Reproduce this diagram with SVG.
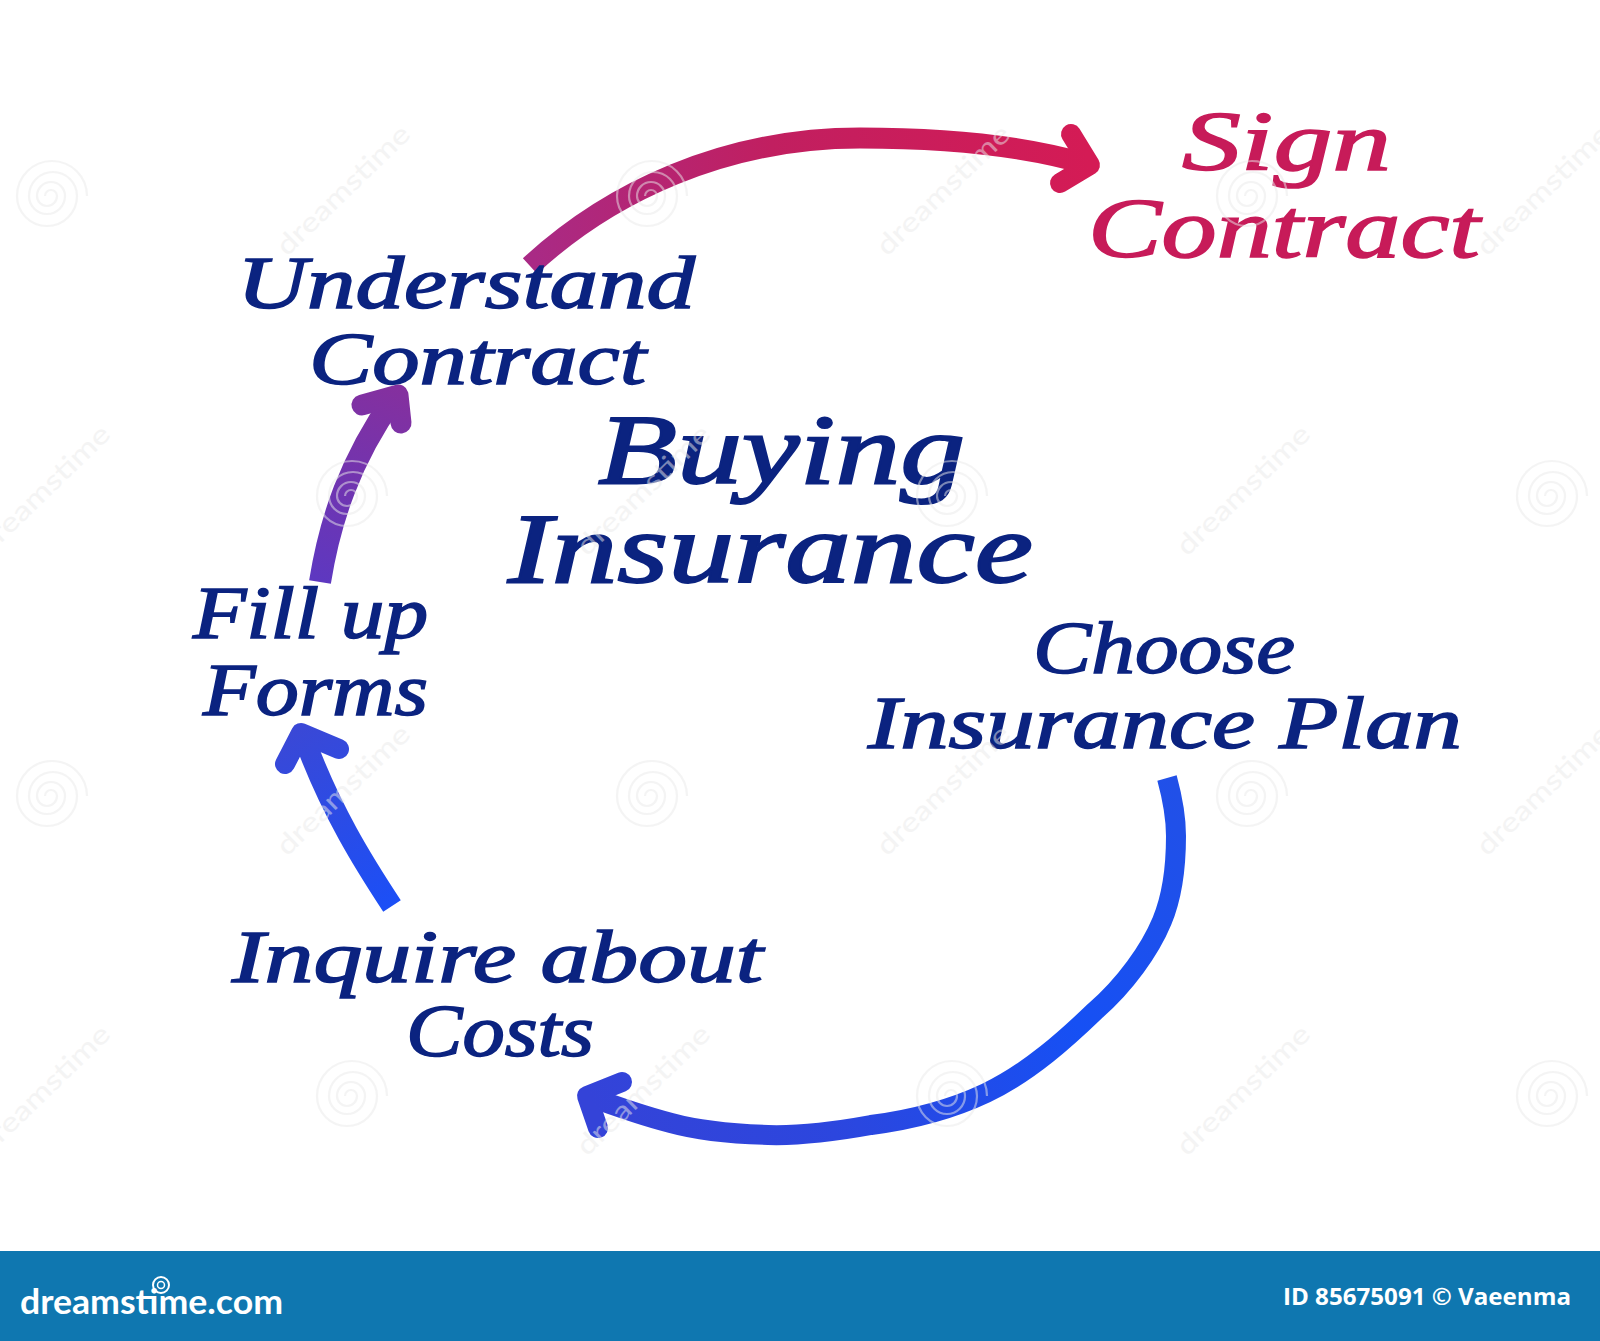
<svg xmlns="http://www.w3.org/2000/svg" xmlns:xlink="http://www.w3.org/1999/xlink" width="1600" height="1341" viewBox="0 0 1600 1341">
<style>
.t{font-family:"Liberation Serif",serif;font-style:italic;font-size:74px;fill:#0b2380;stroke:#0b2380;stroke-width:1.6px}
.big{font-size:100px;stroke-width:2px}
.red{fill:#c71b59;stroke:#c71b59;font-size:84px}
.a{fill:none;stroke-linejoin:round;stroke-linecap:round}
.s{fill:none;stroke-linecap:butt}
.wt{font-family:"Lato","Liberation Sans",sans-serif;font-size:27px;fill:#eaeaea;opacity:.5}
.sp{fill:none;stroke:#eaeaea;stroke-width:2.2;opacity:.5}
</style>
<defs>
<linearGradient id="g1" gradientUnits="userSpaceOnUse" x1="535" y1="263" x2="1090" y2="165"><stop offset="0" stop-color="#a92a85"/><stop offset=".45" stop-color="#c11f60"/><stop offset="1" stop-color="#d41b55"/></linearGradient>
<linearGradient id="g2" gradientUnits="userSpaceOnUse" x1="322" y1="580" x2="398" y2="390"><stop offset="0" stop-color="#5e38c0"/><stop offset="1" stop-color="#84309f"/></linearGradient>
<linearGradient id="g3" gradientUnits="userSpaceOnUse" x1="388" y1="905" x2="300" y2="725"><stop offset="0" stop-color="#1c4ff6"/><stop offset="1" stop-color="#3a48d6"/></linearGradient>
<linearGradient id="g4" gradientUnits="userSpaceOnUse" x1="1170" y1="780" x2="590" y2="1100"><stop offset="0" stop-color="#2150e8"/><stop offset=".3" stop-color="#1650f4"/><stop offset=".7" stop-color="#2c46de"/><stop offset="1" stop-color="#3443d8"/></linearGradient>
<path id="spiral" d="M-4 0A6 6 0 0 1 8 0A10 10 0 0 1 -12 0A14 14 0 0 1 16 0A18 18 0 0 1 -20 0A24 24 0 0 1 28 0A30 30 0 0 1 -32 0A35 35 0 0 1 38 0"/>
<g id="mark"><text class="wt" transform="rotate(-44)" x="0" y="0" textLength="174" lengthAdjust="spacingAndGlyphs">dreamstime</text></g>
</defs>
<rect width="1600" height="1341" fill="#fff"/>

<g id="connectors">
<g id="c-sign">
<path class="s" stroke="url(#g1)" stroke-width="21" d="M530 266C610 192 725 138 860 138C950 138 1030 147 1090 165"/>
<path class="a" stroke="url(#g1)" stroke-width="20" d="M1071 134L1090 165L1060 183"/>
</g>
<g id="c-understand">
<path class="s" stroke="url(#g2)" stroke-width="22" d="M320 582C330 520 350 460 394 398"/>
<path class="a" stroke="url(#g2)" stroke-width="21" d="M362 405L398 395L401 423"/>
</g>
<g id="c-fill">
<path class="s" stroke="url(#g3)" stroke-width="21" d="M392 906C365 865 330 810 303 735"/>
<path class="a" stroke="url(#g3)" stroke-width="20" d="M285 764L301 733L339 749"/>
</g>
<g id="c-inquire">
<path class="s" stroke="url(#g4)" stroke-width="20" d="M1167 778C1173 800 1176 818 1176 836C1176 865 1172 897 1162 921C1150 950 1125 985 1095 1011C1068 1037 1030 1072 986 1093C950 1110 910 1120 871 1125C838 1131 800 1136 768 1135C735 1134 700 1131 671 1123C640 1115 615 1106 588 1096"/>
<path class="a" stroke="url(#g4)" stroke-width="20" d="M622 1082L587 1096L598 1128"/>
</g>
</g>

<g id="node-sign"><text class="t red" x="1182" y="170" textLength="209" lengthAdjust="spacingAndGlyphs">Sign</text><text class="t red" x="1088" y="257" textLength="392" lengthAdjust="spacingAndGlyphs">Contract</text></g>
<g id="node-understand"><text class="t" x="237" y="308" textLength="458" lengthAdjust="spacingAndGlyphs">Understand</text><text class="t" x="309" y="384" textLength="337" lengthAdjust="spacingAndGlyphs">Contract</text></g>
<g id="node-title"><text class="t big" x="598" y="483" textLength="367" lengthAdjust="spacingAndGlyphs">Buying</text><text class="t big" x="508" y="582" textLength="525" lengthAdjust="spacingAndGlyphs">Insurance</text></g>
<g id="node-fill"><text class="t" x="193" y="638" textLength="235" lengthAdjust="spacingAndGlyphs">Fill up</text><text class="t" x="203" y="715" textLength="225" lengthAdjust="spacingAndGlyphs">Forms</text></g>
<g id="node-choose"><text class="t" x="1033" y="673" textLength="262" lengthAdjust="spacingAndGlyphs">Choose</text><text class="t" x="868" y="748" textLength="594" lengthAdjust="spacingAndGlyphs">Insurance Plan</text></g>
<g id="node-inquire"><text class="t" x="232" y="982" textLength="531" lengthAdjust="spacingAndGlyphs">Inquire about</text><text class="t" x="406" y="1056" textLength="188" lengthAdjust="spacingAndGlyphs">Costs</text></g>

<g id="watermarks">
<use href="#spiral" class="sp" x="49" y="196"/><use href="#spiral" class="sp" x="649" y="196"/><use href="#spiral" class="sp" x="1249" y="196"/>
<use href="#spiral" class="sp" x="349" y="496"/><use href="#spiral" class="sp" x="949" y="496"/><use href="#spiral" class="sp" x="1549" y="496"/>
<use href="#spiral" class="sp" x="49" y="796"/><use href="#spiral" class="sp" x="649" y="796"/><use href="#spiral" class="sp" x="1249" y="796"/>
<use href="#spiral" class="sp" x="349" y="1096"/><use href="#spiral" class="sp" x="949" y="1096"/><use href="#spiral" class="sp" x="1549" y="1096"/>
<use href="#mark" x="287" y="257"/><use href="#mark" x="887" y="257"/><use href="#mark" x="1487" y="257"/>
<use href="#mark" x="-13" y="557"/><use href="#mark" x="587" y="557"/><use href="#mark" x="1187" y="557"/>
<use href="#mark" x="287" y="857"/><use href="#mark" x="887" y="857"/><use href="#mark" x="1487" y="857"/>
<use href="#mark" x="-13" y="1157"/><use href="#mark" x="587" y="1157"/><use href="#mark" x="1187" y="1157"/>
</g>

<g id="footer">
<rect x="0" y="1251" width="1600" height="90" fill="#0f77b0"/>
<text x="20" y="1314" font-family="Lato,'Liberation Sans',sans-serif" font-size="34" font-weight="700" fill="#fff" textLength="263" lengthAdjust="spacingAndGlyphs">dreamstime.com</text>
<circle cx="161" cy="1285" r="8" fill="none" stroke="#fff" stroke-width="2"/>
<circle cx="161" cy="1285" r="3.5" fill="none" stroke="#fff" stroke-width="1.5"/>
<text x="1283" y="1305" font-family="'Open Sans','Liberation Sans',sans-serif" font-size="24" font-weight="700" fill="#fff" textLength="288" lengthAdjust="spacingAndGlyphs">ID 85675091 © Vaeenma</text>
</g>
</svg>
